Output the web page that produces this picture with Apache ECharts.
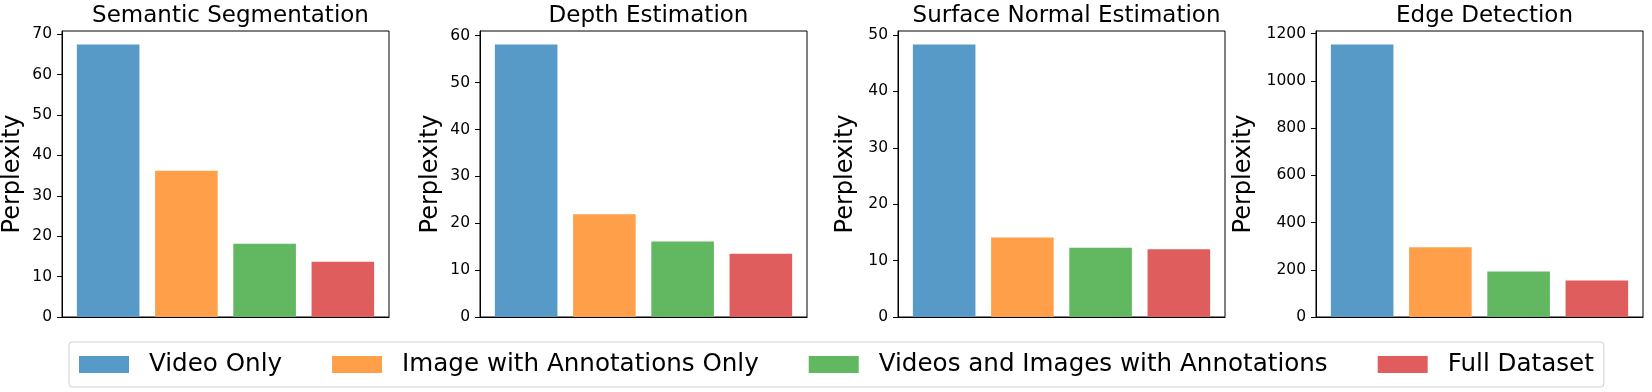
<!DOCTYPE html>
<html>
<head>
<meta charset="utf-8">
<script src="https://cdn.jsdelivr.net/npm/echarts@6/dist/echarts.min.js"></script>
<style>
  html, body { margin: 0; padding: 0; background: #fff; }
  #chart-container { width: 1652px; height: 392px; }
</style>
</head>
<body>
<div id="chart-container"></div>
<script>
// datasets shown in the legend (one bar per dataset in each panel)
const datasets = ['Video Only', 'Image with Annotations Only', 'Videos and Images with Annotations', 'Full Dataset'];
const colors = ['#5799c7', '#ff9f4a', '#61b861', '#e05d5e'];

const tasks = ['Semantic Segmentation', 'Depth Estimation', 'Surface Normal Estimation', 'Edge Detection'];

// perplexity per task, same order as datasets
const semanticSeg = [67.4, 36.2, 18.1, 13.7];
const depthEst = [58.1, 21.9, 16.1, 13.5];
const normalEst = [48.3, 14.1, 12.3, 12.0];
const edgeDet = [1153, 295, 193, 155];

// y tick labels per panel
const semanticTicks = [0, 10, 20, 30, 40, 50, 60, 70];
const depthTicks = [0, 10, 20, 30, 40, 50, 60];
const normalTicks = [0, 10, 20, 30, 40, 50];
const edgeTicks = [0, 200, 400, 600, 800, 1000, 1200];

const panelValues = [semanticSeg, depthEst, normalEst, edgeDet];
const panelTicks = [semanticTicks, depthTicks, normalTicks, edgeTicks];

(function () {
    const chartDom = document.getElementById('chart-container');
    const myChart = echarts.init(chartDom, null, { renderer: 'canvas' });

    const font = 'DejaVu Sans';
    const gridLefts = [62, 480, 898, 1316];
    const gridWidth = 327;
    const gridTop = 31;
    const gridHeight = 286;
    const nameGaps = [37, 37, 40, 60];
    // matplotlib: bar width 0.8, 5% margins -> xlim -0.59 .. 3.59
    const xMin = -0.59, xMax = 3.59;
    const barWidth = gridWidth * 0.8 / (xMax - xMin);

    const grid = [], xAxis = [], yAxis = [], title = [], series = [];

    panelValues.forEach((vals, i) => {
        grid.push({
            left: gridLefts[i], top: gridTop, width: gridWidth, height: gridHeight,
            show: true, borderColor: '#000', borderWidth: 1, backgroundColor: 'transparent',
            outerBoundsMode: 'none'
        });
        title.push({
            text: tasks[i],
            left: gridLefts[i] + gridWidth / 2,
            top: 0,
            textAlign: 'center',
            textStyle: { fontFamily: font, fontSize: 23, fontWeight: 'normal', color: '#000' }
        });
        xAxis.push({
            type: 'value', gridIndex: i, min: xMin, max: xMax, z: 5,
            axisLine: { show: true, onZero: false, lineStyle: { color: '#000', width: 1 } },
            axisTick: { show: false }, axisLabel: { show: false }, splitLine: { show: false }
        });
        const ticks = panelTicks[i];
        yAxis.push({
            type: 'value', gridIndex: i, min: 0, max: Math.max(...vals) * 1.05, z: 5,
            name: 'Perplexity', nameLocation: 'middle', nameGap: nameGaps[i],
            nameTextStyle: { fontFamily: font, fontSize: 24, color: '#000' },
            axisLine: { show: true, onZero: false, lineStyle: { color: '#000', width: 1 } },
            axisTick: { show: true, length: 5, customValues: ticks, lineStyle: { color: '#000', width: 1 } },
            axisLabel: {
                customValues: ticks, margin: 10, fontFamily: font, fontSize: 15.5, color: '#000',
                formatter: v => String(v)
            },
            splitLine: { show: false }
        });
        datasets.forEach((name, j) => {
            series.push({
                type: 'bar', name: name,
                xAxisIndex: i, yAxisIndex: i,
                barWidth: barWidth, barGap: '-100%',
                itemStyle: { color: colors[j] },
                data: [[j, vals[j]]]
            });
        });
    });

    const option = {
        animation: false,
        backgroundColor: '#fff',
        title: title,
        grid: grid,
        xAxis: xAxis,
        yAxis: yAxis,
        legend: {
            data: datasets,
            left: 69, top: 342,
            orient: 'horizontal',
            icon: 'rect',
            itemWidth: 50, itemHeight: 17, itemGap: 50,
            padding: [10, 10, 10, 10],
            borderColor: '#d0d0d0', borderWidth: 1, borderRadius: 3,
            backgroundColor: '#fff',
            textStyle: { fontFamily: font, fontSize: 24.6, color: '#000', padding: [0, 0, 0, 15] }
        },
        series: series
    };
    myChart.setOption(option);
}());
</script>
</body>
</html>
